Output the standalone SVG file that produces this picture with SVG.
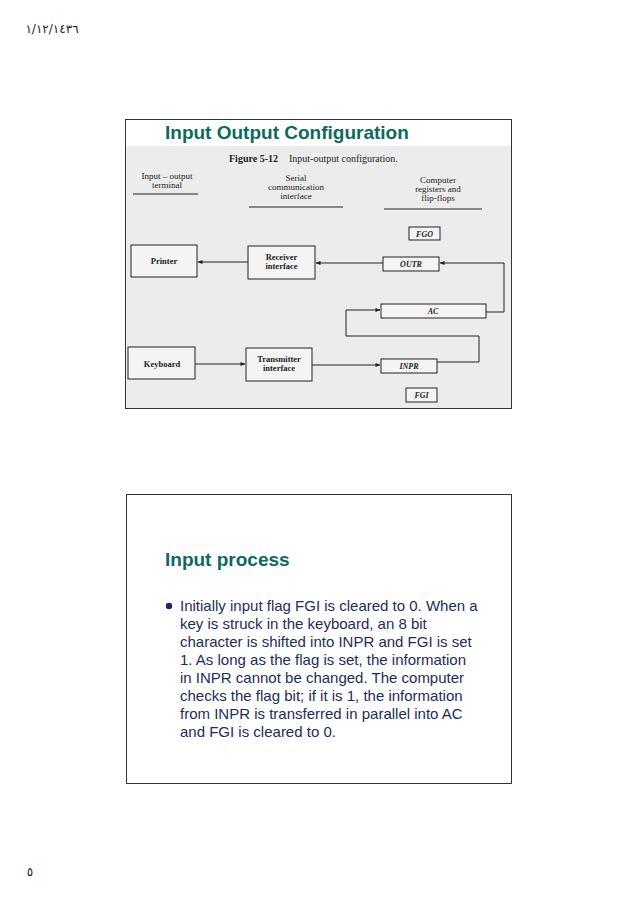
<svg xmlns="http://www.w3.org/2000/svg" width="638" height="903" viewBox="0 0 638 903">
<defs>
<marker id="ah" viewBox="0 0 10 10" refX="9" refY="5" markerWidth="6" markerHeight="5" orient="auto" markerUnits="userSpaceOnUse">
<path d="M0,1 L10,5 L0,9 z" fill="#222"/>
</marker>
<style>
.frame{fill:#fff;stroke:#333;stroke-width:1}
.box{fill:#f4f4f4;stroke:#222;stroke-width:1}
.fig{font-family:"Liberation Serif",serif;fill:#222}
.lbl{font-family:"Liberation Serif",serif;font-size:8.5px;font-weight:bold;fill:#222;text-anchor:middle}
.reg{font-family:"Liberation Serif",serif;font-size:8px;font-style:italic;font-weight:bold;fill:#222;text-anchor:middle}
.hdr{font-family:"Liberation Serif",serif;font-size:9px;fill:#222;text-anchor:middle}
.ttl{font-family:"Liberation Sans",Arial,sans-serif;font-weight:bold;fill:#0b6a5c}
.body{font-family:"Liberation Sans",Arial,sans-serif;font-size:15px;fill:#1b2d5c}
.wire{fill:none;stroke:#222;stroke-width:1}
.ar{font-family:"DejaVu Sans",sans-serif;fill:#222}
</style>
</defs>
<rect width="638" height="903" fill="#fff"/>
<text class="ar" x="52" y="33" font-size="12" text-anchor="middle">١/١٢/١٤٣٦</text>
<text class="ar" x="30" y="876" font-size="12" text-anchor="middle">٥</text>

<g id="slide1">
<rect class="frame" x="125.5" y="119.5" width="386" height="289"/>
<rect x="126" y="146" width="385" height="262" fill="#ececec"/>
<text class="ttl" x="165" y="139" font-size="19">Input Output Configuration</text>
<text class="fig" x="229" y="162" font-size="10" font-weight="bold">Figure 5-12</text>
<text class="fig" x="289" y="162" font-size="10">Input-output configuration.</text>
<g id="headers">
<text class="hdr" x="167" y="179">Input – output</text>
<text class="hdr" x="167" y="188">terminal</text>
<line x1="133" y1="194" x2="198" y2="194" stroke="#222" stroke-width="1.2"/>
<text class="hdr" x="296" y="181">Serial</text>
<text class="hdr" x="296" y="190">communication</text>
<text class="hdr" x="296" y="199">interface</text>
<line x1="249" y1="207" x2="343" y2="207" stroke="#222" stroke-width="1.2"/>
<text class="hdr" x="438" y="183">Computer</text>
<text class="hdr" x="438" y="192">registers and</text>
<text class="hdr" x="438" y="201">flip-flops</text>
<line x1="384" y1="209" x2="482" y2="209" stroke="#222" stroke-width="1.2"/>
</g>
</g>

<g id="connectors">
<line class="wire" x1="248" y1="262" x2="198" y2="262" marker-end="url(#ah)"/>
<line class="wire" x1="383" y1="263" x2="316" y2="263" marker-end="url(#ah)"/>
<path class="wire" d="M486,312 H504 V263 H440" marker-end="url(#ah)"/>
<line class="wire" x1="195" y1="364" x2="245" y2="364" marker-end="url(#ah)"/>
<line class="wire" x1="312" y1="365" x2="380" y2="365" marker-end="url(#ah)"/>
<path class="wire" d="M437,362 H479 V336 H346 V310 H380" marker-end="url(#ah)"/>
</g>

<g id="printer"><rect class="box" x="131" y="245" width="66" height="32"/><text class="lbl" x="164" y="264">Printer</text></g>
<g id="receiver"><rect class="box" x="248" y="246" width="67" height="33"/><text class="lbl" x="281.5" y="260">Receiver</text><text class="lbl" x="281.5" y="269">interface</text></g>
<g id="keyboard"><rect class="box" x="128" y="347" width="67" height="32"/><text class="lbl" x="162" y="367">Keyboard</text></g>
<g id="transmitter"><rect class="box" x="246" y="348" width="66" height="33"/><text class="lbl" x="279" y="362">Transmitter</text><text class="lbl" x="279" y="371">interface</text></g>
<g id="fgo"><rect class="box" x="409" y="227" width="31" height="13"/><text class="reg" x="424.5" y="236.5">FGO</text></g>
<g id="outr"><rect class="box" x="383" y="257" width="56" height="14"/><text class="reg" x="411" y="267">OUTR</text></g>
<g id="ac"><rect class="box" x="381" y="304" width="105" height="14"/><text class="reg" x="433" y="314">AC</text></g>
<g id="inpr"><rect class="box" x="381" y="359" width="56" height="14"/><text class="reg" x="409" y="369">INPR</text></g>
<g id="fgi"><rect class="box" x="406" y="388" width="31" height="14"/><text class="reg" x="421.5" y="398">FGI</text></g>

<g id="slide2">
<rect class="frame" x="126.5" y="494.5" width="385" height="289"/>
<text class="ttl" x="165" y="566" font-size="19">Input process</text>
<circle cx="169" cy="606" r="3.2" fill="#1b2d5c"/>
<text class="body">
<tspan x="180" y="611">Initially input flag FGI is cleared to 0. When a</tspan>
<tspan x="180" y="629">key is struck in the keyboard, an 8 bit</tspan>
<tspan x="180" y="647">character is shifted into INPR and FGI is set</tspan>
<tspan x="180" y="665">1. As long as the flag is set, the information</tspan>
<tspan x="180" y="683">in INPR cannot be changed. The computer</tspan>
<tspan x="180" y="701">checks the flag bit; if it is 1, the information</tspan>
<tspan x="180" y="719">from INPR is transferred in parallel into AC</tspan>
<tspan x="180" y="737">and FGI is cleared to 0.</tspan>
</text>
</g>
</svg>
